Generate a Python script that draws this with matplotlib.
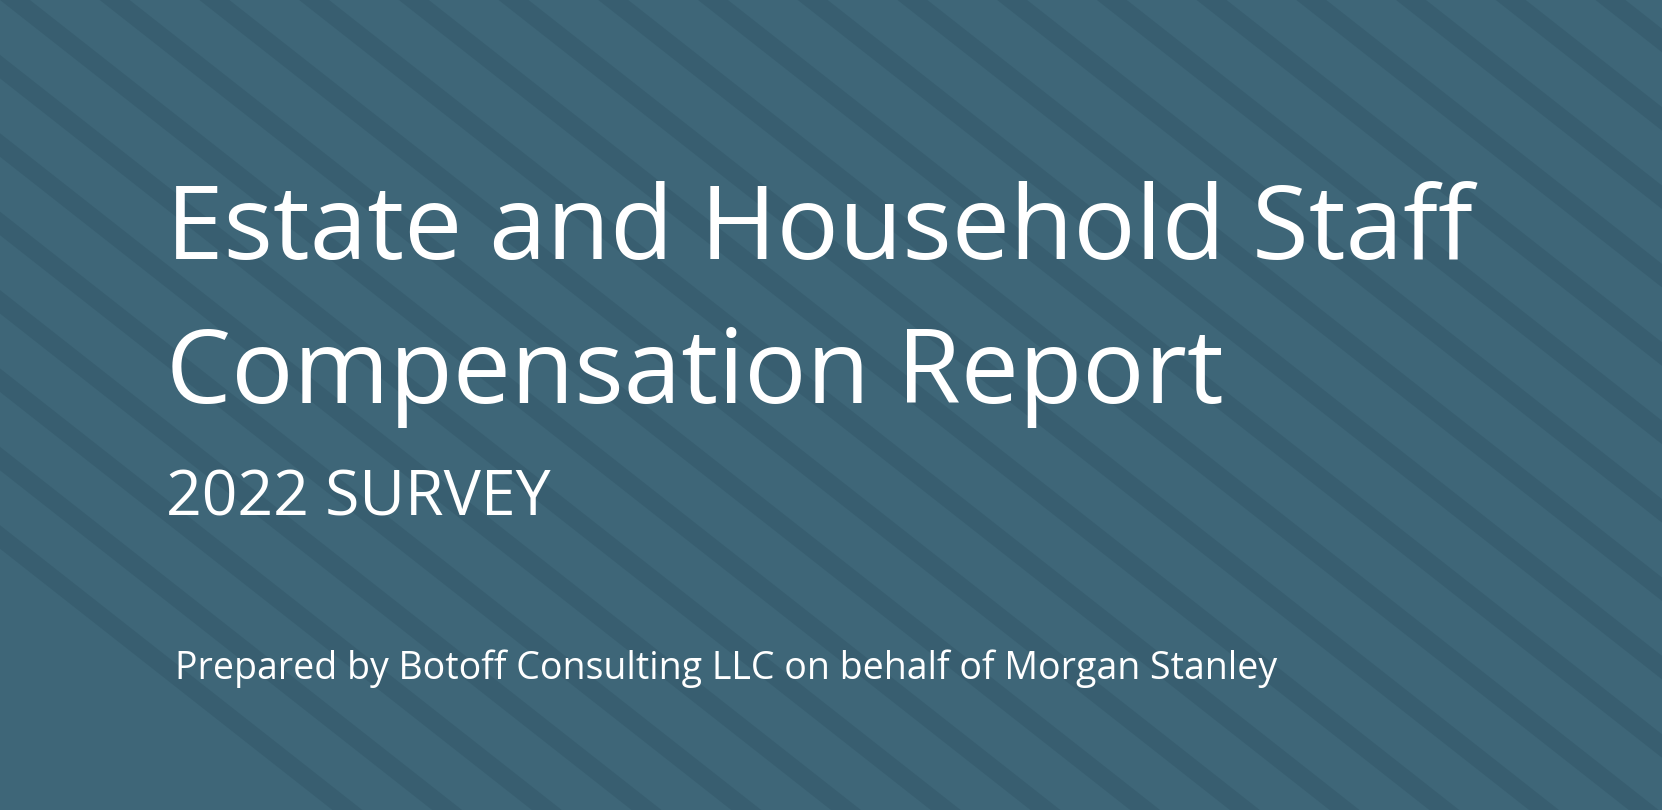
import matplotlib
matplotlib.use("Agg")
import matplotlib.pyplot as plt
from matplotlib.patches import Polygon

BG = "#3e6678"
STRIPE = "#2f5364"
TEXT = "#ffffff"

title_lines = ["Estate and Household Staff", "Compensation Report"]
subtitle = "2022 SURVEY"
credit = "Prepared by Botoff Consulting LLC on behalf of Morgan Stanley"

# stripe starting x positions along the top edge (figure fraction)
stripe_starts = [-0.42, -0.36, -0.30, -0.24, -0.18, -0.12, -0.06, 0.0, 0.06, 0.12, 0.18,
                 0.24, 0.30, 0.36, 0.42, 0.48, 0.54, 0.60, 0.66, 0.72, 0.78, 0.84, 0.90, 0.96]
stripe_width = 0.018
slope_dx = 0.62   # horizontal run over full figure height

fig = plt.figure(figsize=(16.62, 8.10), dpi=100)
fig.patch.set_facecolor(BG)
ax = fig.add_axes([0, 0, 1, 1])
ax.set_xlim(0, 1)
ax.set_ylim(0, 1)
ax.axis("off")
ax.set_facecolor(BG)

for x0 in stripe_starts:
    poly = Polygon([(x0, 1), (x0 + stripe_width, 1),
                    (x0 + stripe_width + slope_dx, 0), (x0 + slope_dx, 0)],
                   closed=True, facecolor=STRIPE, edgecolor="none", alpha=0.4)
    ax.add_patch(poly)

fam = ["Open Sans", "DejaVu Sans"]
ax.text(0.100, 1 - 0.320, title_lines[0], color=TEXT, fontsize=74.5, family=fam, va="baseline")
ax.text(0.100, 1 - 0.497, title_lines[1], color=TEXT, fontsize=74.5, family=fam, va="baseline")
ax.text(0.100, 1 - 0.637, subtitle, color=TEXT, fontsize=45, family=fam, va="baseline")
ax.text(0.105, 1 - 0.838, credit, color=TEXT, fontsize=27, family=fam, va="baseline")

fig.savefig("out.png", dpi=100, facecolor=BG)
